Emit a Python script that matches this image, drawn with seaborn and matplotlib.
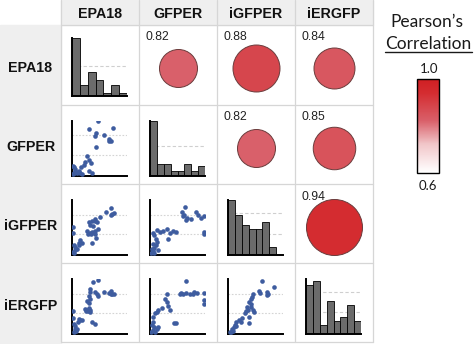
import numpy as np
import pandas as pd
import matplotlib
matplotlib.use("Agg")
import matplotlib.pyplot as plt
import seaborn as sns
from matplotlib.colors import LinearSegmentedColormap, Normalize
from matplotlib.lines import Line2D
from matplotlib.patches import Rectangle
import matplotlib.cm as cm

# ---------------- data ----------------
variables = ["EPA18", "GFPER", "iGFPER", "iERGFP"]

# histogram bar counts (diagonal)
hist_EPA18 = [22, 4, 9, 6, 1, 4, 1]
hist_GFPER = [23, 5, 5, 2, 2, 5, 2, 4]
hist_iGFPER = [15, 11, 8, 7, 7, 9, 2, 0]
hist_iERGFP = [12, 13, 2, 8, 3, 4, 7, 3]

# Pearson correlations (upper triangle)
corr_pairs = [(0, 1), (0, 2), (0, 3), (1, 2), (1, 3), (2, 3)]
corr_values = [0.82, 0.88, 0.84, 0.82, 0.85, 0.94]

# scatter panels (lower triangle), values scaled to each axis range (0-1)
sc_GFPER_EPA18_x = [0.47, 0.31, 0.44, 0.41, 0.58, 0.75, 0.68, 0.71, 0.67, 0.44, 0.27, 0.30, 0.24, 0.35,
                    0.21, 0.17, 0.30, 0.36, 0.12, 0.03, 0.06, 0.03, 0.09, 0.15, 0.05, 0.01, 0.11, 0.18, 0.02]
sc_GFPER_EPA18_y = [1.00, 0.85, 0.77, 0.72, 0.73, 0.87, 0.66, 0.62, 0.63, 0.51, 0.35, 0.28, 0.25, 0.22,
                    0.19, 0.15, 0.09, 0.05, 0.09, 0.15, 0.08, 0.05, 0.04, 0.05, 0.11, 0.18, 0.07, 0.03, 0.02]

sc_iGFPER_EPA18_x = [0.71, 0.61, 0.73, 0.76, 0.70, 0.50, 0.42, 0.41, 0.45, 0.36, 0.30, 0.33, 0.39, 0.48,
                     0.27, 0.32, 0.36, 0.42, 0.29, 0.35, 0.41, 0.44, 0.36, 0.15, 0.12, 0.18, 0.01, 0.01,
                     0.03, 0.06, 0.05, 0.09, 0.01, 0.12, 0.03]
sc_iGFPER_EPA18_y = [0.86, 0.78, 0.75, 0.76, 0.73, 0.68, 0.66, 0.61, 0.59, 0.62, 0.59, 0.54, 0.53, 0.47,
                     0.43, 0.39, 0.41, 0.43, 0.37, 0.37, 0.37, 0.30, 0.22, 0.27, 0.22, 0.21, 0.51, 0.40,
                     0.18, 0.13, 0.08, 0.11, 0.05, 0.18, 0.02]

sc_iERGFP_EPA18_x = [0.38, 0.48, 0.32, 0.33, 0.42, 0.45, 0.48, 0.58, 0.67, 0.70, 0.73, 0.76, 0.71, 0.30,
                     0.32, 0.27, 0.30, 0.24, 0.27, 0.30, 0.33, 0.26, 0.29, 0.32, 0.12, 0.15, 0.18, 0.11,
                     0.36, 0.42, 0.01, 0.01, 0.03, 0.06, 0.05, 0.09, 0.03, 0.07]
sc_iERGFP_EPA18_y = [0.95, 0.99, 0.81, 0.77, 0.77, 0.72, 0.68, 0.77, 0.75, 0.78, 0.73, 0.72, 0.72, 0.68,
                     0.64, 0.59, 0.56, 0.45, 0.43, 0.46, 0.43, 0.41, 0.41, 0.40, 0.27, 0.24, 0.24, 0.21,
                     0.22, 0.18, 0.41, 0.29, 0.18, 0.13, 0.08, 0.08, 0.03, 0.05]

sc_iGFPER_GFPER_x = [0.64, 0.58, 0.62, 0.68, 0.74, 0.66, 0.60, 0.83, 0.48, 0.41, 0.36, 0.30, 0.24, 0.18,
                     0.12, 0.05, 0.32, 0.08, 0.10, 0.12, 0.06, 0.10, 0.08, 0.14, 0.05, 0.88, 0.92, 0.98,
                     0.98, 0.98, 0.03, 0.02, 0.07]
sc_iGFPER_GFPER_y = [0.87, 0.78, 0.72, 0.67, 0.65, 0.63, 0.70, 0.78, 0.41, 0.44, 0.40, 0.46, 0.43, 0.41,
                     0.45, 0.40, 0.28, 0.35, 0.28, 0.23, 0.20, 0.17, 0.12, 0.08, 0.06, 0.72, 0.67, 0.70,
                     0.42, 0.37, 0.10, 0.03, 0.02]

sc_iERGFP_GFPER_x = [0.65, 0.57, 0.60, 0.55, 0.66, 0.73, 0.78, 0.30, 0.28, 0.30, 0.33, 0.36, 0.21, 0.15,
                     0.12, 0.09, 0.43, 0.48, 0.15, 0.06, 0.05, 0.07, 0.06, 0.09, 0.12, 0.80, 0.86, 0.98,
                     0.98, 0.98, 0.03, 0.02]
sc_iERGFP_GFPER_y = [0.97, 0.75, 0.73, 0.72, 0.75, 0.72, 0.73, 0.72, 0.64, 0.58, 0.51, 0.44, 0.46, 0.43,
                     0.40, 0.38, 0.19, 0.19, 0.12, 0.30, 0.21, 0.12, 0.06, 0.03, 0.09, 0.77, 0.74, 0.75,
                     0.62, 0.55, 0.15, 0.03]

sc_iERGFP_iGFPER_x = [0.62, 0.84, 0.56, 0.58, 0.70, 0.73, 0.71, 0.46, 0.44, 0.42, 0.38, 0.42, 0.35, 0.42,
                      0.45, 0.48, 0.37, 0.38, 0.38, 0.26, 0.20, 0.15, 0.24, 0.13, 0.10, 0.08, 0.06, 0.09,
                      0.15, 0.30, 0.32, 0.04]
sc_iERGFP_iGFPER_y = [0.97, 0.86, 0.78, 0.74, 0.76, 0.72, 0.71, 0.72, 0.67, 0.64, 0.57, 0.54, 0.49, 0.48,
                      0.43, 0.40, 0.44, 0.30, 0.19, 0.28, 0.25, 0.22, 0.22, 0.15, 0.12, 0.08, 0.02, 0.05,
                      0.13, 0.38, 0.41, 0.03]

hist_data = [hist_EPA18, hist_GFPER, hist_iGFPER, hist_iERGFP]
scatter_data = {
    (1, 0): (sc_GFPER_EPA18_x, sc_GFPER_EPA18_y),
    (2, 0): (sc_iGFPER_EPA18_x, sc_iGFPER_EPA18_y),
    (3, 0): (sc_iERGFP_EPA18_x, sc_iERGFP_EPA18_y),
    (2, 1): (sc_iGFPER_GFPER_x, sc_iGFPER_GFPER_y),
    (3, 1): (sc_iERGFP_GFPER_x, sc_iERGFP_GFPER_y),
    (3, 2): (sc_iERGFP_iGFPER_x, sc_iERGFP_iGFPER_y),
}
cbar_min, cbar_max = 0.6, 1.0

# ---------------- style / layout ----------------
sns.set_theme(style="white")
plt.rcParams['font.family'] = ['Liberation Sans', 'DejaVu Sans']

W, H = 474, 344
fig = plt.figure(figsize=(W / 100, H / 100), dpi=100)

col_edges = [61, 139, 217, 295, 373]
row_edges = [25, 104.5, 184, 263, 342]
grid_col = '#d6d6d6'
bg_gray = '#efefef'


def add_ax(x, y, w, h):
    return fig.add_axes([x / W, 1 - (y + h) / H, w / W, h / H])


def fx(x):
    return x / W


def fy(y):
    return 1 - y / H


# backgrounds
fig.patches.append(Rectangle((fx(61), fy(25)), (373 - 61) / W, 25 / H,
                             transform=fig.transFigure, color=bg_gray, zorder=0))
fig.patches.append(Rectangle((0, 0), 61 / W, fy(25),
                             transform=fig.transFigure, color=bg_gray, zorder=0))
# grid lines
for x in col_edges:
    fig.add_artist(Line2D([fx(x), fx(x)], [fy(0), fy(342)], transform=fig.transFigure,
                          color=grid_col, lw=0.9, zorder=1))
for y in row_edges:
    fig.add_artist(Line2D([fx(61), fx(373)], [fy(y), fy(y)], transform=fig.transFigure,
                          color=grid_col, lw=0.9, zorder=1))

# headers & row labels
for i, name in enumerate(variables):
    cxm = (col_edges[i] + col_edges[i + 1]) / 2
    fig.text(fx(cxm), fy(18.3), name, ha='center', va='baseline', fontsize=10.3,
             fontweight='bold', color='#111111')
    rym = (row_edges[i] + row_edges[i + 1]) / 2
    fig.text(fx(30.5), fy(rym + 7), name, ha='center', va='baseline', fontsize=10.3,
             fontweight='bold', color='#111111')

# colormap
cmap = LinearSegmentedColormap.from_list(
    "pearson", [(0.0, '#ffffff'), (0.3, '#f1c6c9'), (0.55, '#d9606a'),
                (0.85, '#d42c30'), (1.0, '#d01e22')])
norm = Normalize(cbar_min, cbar_max)

hist_grid = {0: [0.52], 1: [0.53], 2: [0.38, 0.77], 3: [0.39, 0.76]}
hist_top = {0: 1.0, 1: 1.0, 2: 1.0, 3: 1.045}


def style_spines(ax):
    sns.despine(ax=ax)
    for s in ['left', 'bottom']:
        ax.spines[s].set_color('black')
        ax.spines[s].set_linewidth(1.4)
    ax.set_xticks([])
    ax.set_yticks([])
    ax.set_xlabel('')
    ax.set_ylabel('')
    ax.patch.set_alpha(0)


for i in range(4):
    for j in range(4):
        cx, cy = col_edges[j], row_edges[i]
        cw = col_edges[j + 1] - col_edges[j]
        ch = row_edges[i + 1] - row_edges[i]
        if i == j:
            counts = hist_data[i]
            top = 13 if i == 0 else 16
            ax = add_ax(cx + 11, cy + top, 55, ch - top - 8.5)
            nb = len(counts)
            hdf = pd.DataFrame({'bin': [k + 0.5 for k in range(nb)], 'count': counts})
            sns.histplot(data=hdf, x='bin', weights='count', binwidth=1, binrange=(0, nb),
                         ax=ax, color='#6b6b6b', edgecolor='black', linewidth=0.6, alpha=1)
            ymax = max(counts) * hist_top[i]
            ax.set_xlim(0, nb)
            ax.set_ylim(0, ymax)
            for g in hist_grid[i]:
                ax.axhline(g * ymax, color='#cfcfcf', lw=0.8, ls=(0, (3, 2)), zorder=0)
            style_spines(ax)
        elif i > j:
            xs, ys = scatter_data[(i, j)]
            ax = add_ax(cx + 11, cy + 16, 55, ch - 16 - 8.5)
            for g in [0.37, 0.73]:
                ax.axhline(g, color='#d4d4d4', lw=0.8, ls=(0, (1.5, 1.5)), zorder=0)
            df = pd.DataFrame({'x': xs, 'y': ys})
            sns.scatterplot(data=df, x='x', y='y', ax=ax, color='#3e5c9f', s=11,
                            linewidth=0, zorder=3)
            ax.set_xlim(0, 1)
            ax.set_ylim(0, 1)
            style_spines(ax)
        else:
            r = corr_values[corr_pairs.index((i, j))]
            ax = add_ax(cx, cy, cw, ch)
            ax.set_xlim(0, 1)
            ax.set_ylim(0, 1)
            ax.axis('off')
            radius_px = 19 + (r - 0.82) * 75
            size = (2 * radius_px * 0.72) ** 2
            cdf = pd.DataFrame({'x': [0.5], 'y': [0.456], 'r': [r]})
            sns.scatterplot(data=cdf, x='x', y='y', ax=ax, s=size, color=cmap(norm(r)),
                            edgecolor='#6a3c3c', linewidth=0.7, legend=False)
            ax.text(6.5 / cw, 1 - 6.5 / ch, f"{r:.2f}", ha='left', va='top',
                    fontsize=8.8, color='#222222', transform=ax.transAxes)

# colorbar
cax = add_ax(416.5, 78.5, 22.5, 94)
cb = fig.colorbar(cm.ScalarMappable(norm=norm, cmap=cmap), cax=cax)
cb.set_ticks([])
cb.outline.set_edgecolor('black')
cb.outline.set_linewidth(1.0)

fig.text(fx(427), fy(26.7), "Pearson\u2019s", ha='center', va='baseline', fontsize=12.5,
         family=['Lato', 'DejaVu Sans'], color='#1a1a1a')
fig.text(fx(428.5), fy(49), "Correlation", ha='center', va='baseline', fontsize=12.5,
         family=['Lato', 'DejaVu Sans'], color='#1a1a1a')
fig.add_artist(Line2D([fx(385), fx(472)], [fy(52), fy(52)], transform=fig.transFigure,
                      color='#1a1a1a', lw=1.0))
fig.text(fx(429.5), fy(72.7), f"{cbar_max:.1f}", ha='center', va='baseline', fontsize=9.5,
         family=['Lato', 'DejaVu Sans'], color='#1a1a1a')
fig.text(fx(428), fy(190), f"{cbar_min:.1f}", ha='center', va='baseline', fontsize=9.5,
         family=['Lato', 'DejaVu Sans'], color='#1a1a1a')

fig.savefig("out.png", dpi=100)
